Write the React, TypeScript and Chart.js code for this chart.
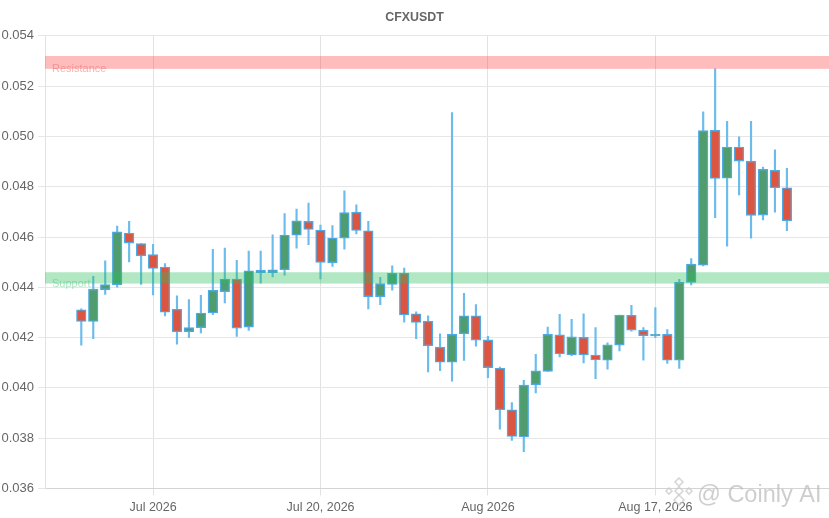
import React, { useEffect, useRef } from "react";
import { Chart, registerables } from "chart.js";

Chart.register(...registerables);

const title = "CFXUSDT";
const tickIndexes = [6, 20, 34, 48];
const tickLabels = ["Jul 2026", "Jul 20, 2026", "Aug 2026", "Aug 17, 2026"];

const opens = [
  0.04311, 0.04264, 0.04391, 0.04411, 0.04616, 0.04574, 0.0453, 0.04481, 0.04313, 0.04224,
  0.0424, 0.04298, 0.04383, 0.04433, 0.04242, 0.04469, 0.04458, 0.0447, 0.04607, 0.04662,
  0.04628, 0.04497, 0.04596, 0.04699, 0.04625, 0.04363, 0.04412, 0.04456, 0.04295, 0.04265,
  0.04162, 0.04102, 0.04215, 0.04287, 0.04191, 0.04078, 0.03913, 0.03805, 0.04012, 0.04066,
  0.04211, 0.04131, 0.04201, 0.04131, 0.0411, 0.0417, 0.04289, 0.0423, 0.04208, 0.04213,
  0.0411, 0.0442, 0.04488, 0.05024, 0.04834, 0.04958, 0.04902, 0.04687, 0.04865, 0.04796,
];
const closes = [
  0.04264, 0.04393, 0.04411, 0.04621, 0.04576, 0.04525, 0.04475, 0.04301, 0.04223, 0.0424,
  0.04298, 0.04388, 0.04433, 0.04238, 0.04466, 0.04458, 0.0447, 0.04608, 0.04664, 0.0463,
  0.04499, 0.04596, 0.04697, 0.04626, 0.04363, 0.04415, 0.04456, 0.0429, 0.0426, 0.04167,
  0.04102, 0.04213, 0.04287, 0.0419, 0.04081, 0.03913, 0.03807, 0.04011, 0.04068, 0.04213,
  0.04135, 0.04203, 0.04131, 0.04111, 0.04171, 0.0429, 0.0423, 0.04208, 0.04213, 0.0411,
  0.0442, 0.04492, 0.05023, 0.04833, 0.04958, 0.04902, 0.04686, 0.04869, 0.04796, 0.04665,
];
const highs = [
  0.04315, 0.04444, 0.04505, 0.04644, 0.04662, 0.04574, 0.04571, 0.04494, 0.04366, 0.04351,
  0.04368, 0.04551, 0.04556, 0.04507, 0.04544, 0.04544, 0.04609, 0.04693, 0.04711, 0.04735,
  0.04648, 0.04646, 0.04784, 0.04728, 0.04662, 0.0444, 0.04486, 0.04477, 0.04303, 0.04287,
  0.04215, 0.05095, 0.04376, 0.04331, 0.04205, 0.04083, 0.03942, 0.0403, 0.04134, 0.04242,
  0.04293, 0.04273, 0.04295, 0.0424, 0.04179, 0.0429, 0.04328, 0.0424, 0.04319, 0.04232,
  0.04432, 0.04514, 0.05098, 0.05269, 0.0506, 0.04999, 0.0506, 0.04878, 0.04947, 0.04873,
];
const lows = [
  0.0417, 0.04196, 0.04372, 0.04401, 0.04501, 0.04412, 0.0437, 0.04286, 0.04174, 0.042,
  0.04219, 0.04291, 0.04338, 0.04205, 0.04229, 0.04417, 0.04441, 0.04448, 0.04556, 0.0457,
  0.04433, 0.04483, 0.04552, 0.04612, 0.04314, 0.04331, 0.04389, 0.04261, 0.04196, 0.04064,
  0.04069, 0.04027, 0.04109, 0.04166, 0.04041, 0.03836, 0.03791, 0.03746, 0.0398, 0.04066,
  0.04123, 0.04128, 0.04099, 0.04037, 0.04075, 0.04147, 0.04226, 0.0411, 0.042, 0.04097,
  0.04078, 0.0441, 0.04485, 0.04677, 0.04564, 0.04768, 0.04596, 0.04668, 0.04699, 0.04625,
];

const resistanceBand = [0.05269, 0.0532];
const supportBand = [0.04415, 0.0446];

const UP = "#4f9d6f";
const DOWN = "#dc5540";
const BORDER = "#4ea9e4";
const WICK = "#6bbcec";
const GRID = "#e6e6e6";
const FONT = '"Liberation Sans", Arial, sans-serif';

const overlayPlugin = {
  id: "overlay",
  afterDatasetsDraw(chart: any) {
    const { ctx, chartArea, scales } = chart;
    const y = scales.y;
    ctx.save();
    const bands: [number[], string, string, string][] = [
      [resistanceBand, "rgba(255,60,60,0.34)", "rgba(240,110,110,0.55)", "Resistance"],
      [supportBand, "rgba(40,190,90,0.36)", "rgba(60,190,110,0.42)", "Support"],
    ];
    for (const [band, fill, textColor, label] of bands) {
      const top = y.getPixelForValue(band[1]);
      const bottom = y.getPixelForValue(band[0]);
      ctx.fillStyle = fill;
      ctx.fillRect(chartArea.left, top, chartArea.right - chartArea.left, bottom - top);
      ctx.fillStyle = textColor;
      ctx.font = `11px ${FONT}`;
      ctx.textBaseline = "middle";
      ctx.textAlign = "left";
      ctx.fillText(label, chartArea.left + 7, bottom);
    }
    ctx.restore();
  },
  afterDraw(chart: any) {
    const { ctx } = chart;
    ctx.save();
    // watermark
    ctx.globalAlpha = 0.75;
    ctx.strokeStyle = "#c9c9c9";
    ctx.lineWidth = 1.6;
    const diamonds: [number, number, number][] = [
      [679, 491, 4],
      [669, 491, 3],
      [689, 491, 3],
      [679, 482, 4],
      [679, 500, 5],
    ];
    for (const [cx, cy, r] of diamonds) {
      ctx.beginPath();
      ctx.moveTo(cx, cy - r);
      ctx.lineTo(cx + r, cy);
      ctx.lineTo(cx, cy + r);
      ctx.lineTo(cx - r, cy);
      ctx.closePath();
      ctx.stroke();
    }
    ctx.fillStyle = "#bdbdbd";
    ctx.font = `23.5px ${FONT}`;
    ctx.textAlign = "left";
    ctx.textBaseline = "alphabetic";
    ctx.fillText("@ Coinly AI", 697, 502);
    ctx.restore();
  },
};

export default function App() {
  const ref = useRef<HTMLCanvasElement>(null);
  useEffect(() => {
    if (!ref.current) return;
    const bodyColors = opens.map((o, i) => (closes[i] >= o ? UP : DOWN));
    const chart = new Chart(ref.current, {
      type: "bar",
      data: {
        datasets: [
          {
            label: "Body",
            order: 1,
            data: opens.map((o, i) => ({ x: i, y: [o, closes[i]] })) as any,
            backgroundColor: bodyColors,
            borderColor: BORDER,
            borderWidth: 1.4,
            borderSkipped: false,
            barThickness: 9.6,
            grouped: false,
          } as any,
          {
            label: "Wick",
            order: 2,
            data: highs.map((h, i) => ({ x: i, y: [lows[i], h] })) as any,
            backgroundColor: WICK,
            borderWidth: 0,
            barThickness: 1.5,
            grouped: false,
          } as any,
        ],
      },
      plugins: [overlayPlugin],
      options: {
        responsive: false,
        animation: false,
        devicePixelRatio: 1,
        plugins: {
          legend: { display: false },
          tooltip: { enabled: false },
          title: {
            display: true,
            text: title,
            color: "#666666",
            font: { family: FONT, size: 12.4, weight: "bold" },
            padding: { top: 10, bottom: 11 },
          },
        },
        scales: {
          x: {
            type: "linear",
            offset: false,
            min: -3.035,
            max: 62.52,
            grid: { color: "#e2e2e2", tickLength: 7, offset: false },
            border: { color: "#d4d4d4" },
            afterBuildTicks: (s: any) => {
              s.ticks = tickIndexes.map((v) => ({ value: v }));
            },
            afterFit: (s: any) => {
              s.height = 29.5;
            },
            ticks: {
              autoSkip: false,
              maxRotation: 0,
              color: "#666666",
              font: { family: FONT, size: 12.5 },
              padding: 5,
              callback: (v: any) => tickLabels[tickIndexes.indexOf(Number(v))] ?? "",
            },
          },
          y: {
            min: 0.036,
            max: 0.054,
            grid: { color: GRID, tickLength: 7 },
            border: { color: "#e2e2e2" },
            afterFit: (s: any) => {
              s.width = 45;
            },
            ticks: {
              stepSize: 0.002,
              color: "#666666",
              font: { family: FONT, size: 13 },
              padding: 4,
              callback: (v: any) => Number(v).toFixed(3),
            },
          },
        },
      } as any,
    });
    return () => chart.destroy();
  }, []);
  return (
    <div style={{ position: "fixed", left: 0, top: 0, width: 829, height: 518 }}>
      <canvas ref={ref} width={829} height={518} style={{ display: "block" }} />
    </div>
  );
}
